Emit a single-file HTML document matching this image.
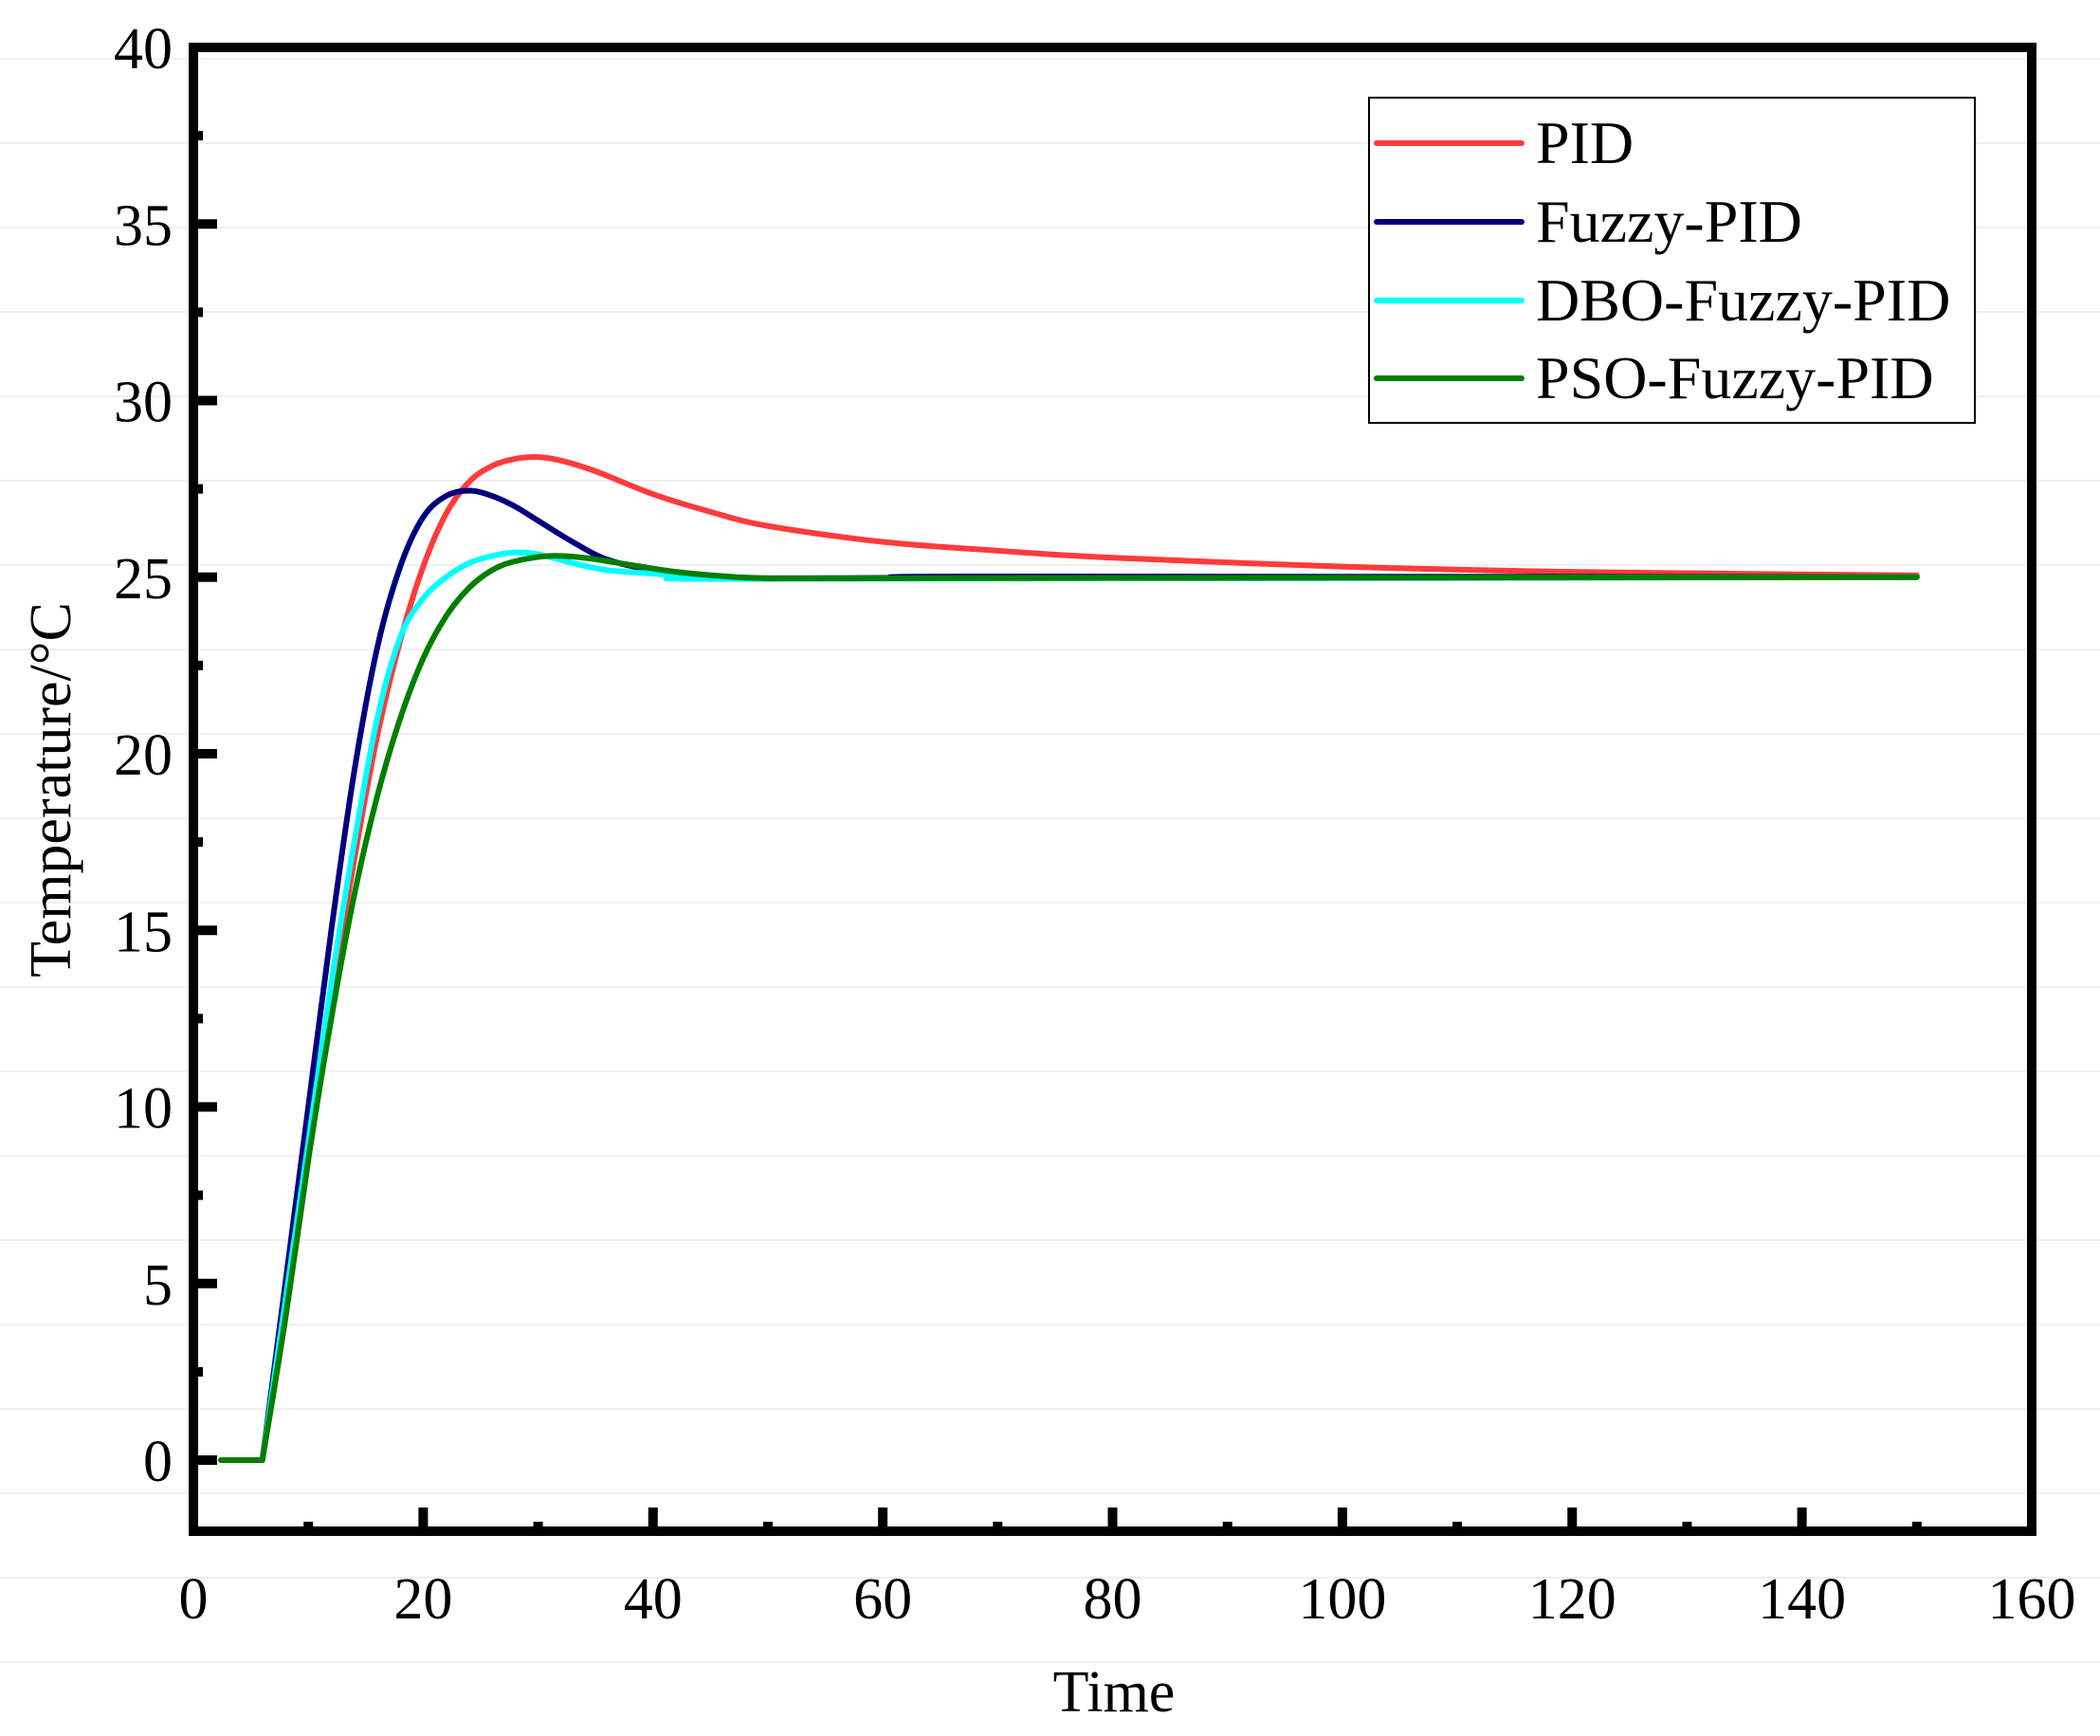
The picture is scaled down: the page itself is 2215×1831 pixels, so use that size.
<!DOCTYPE html>
<html><head><meta charset="utf-8"><style>
html,body{margin:0;padding:0;background:#fff}
svg text{font-family:"Liberation Serif",serif;fill:#000}
</style></head><body>
<svg id="s" xmlns="http://www.w3.org/2000/svg" width="2215" height="1826" viewBox="0 0 2215 1826">
<rect width="2215" height="1826" fill="#fff"/>
<g id="grid" stroke="#f0f0f0" stroke-width="2"></g>
<g id="curves" fill="none" stroke-width="6" stroke-linejoin="round" stroke-linecap="round"></g>
<g id="ticks" fill="#000"></g>
<rect x="204" y="50" width="1939" height="1565" fill="none" stroke="#000" stroke-width="10"/>
<g id="labels" font-size="62"></g>
<text x="1175" y="1805" font-size="62" text-anchor="middle">Time</text>
<text transform="translate(74,833) rotate(-90)" font-size="62" text-anchor="middle">Temperature/°C</text>
<rect x="1444" y="103" width="639" height="343" fill="#fff" stroke="#000" stroke-width="2"/>
<g stroke-width="6" stroke-linecap="round">
<line x1="1452" y1="151" x2="1605" y2="151" stroke="#ff3b3b"/>
<line x1="1452" y1="234" x2="1605" y2="234" stroke="#00007f"/>
<line x1="1452" y1="317" x2="1605" y2="317" stroke="#00ffff"/>
<line x1="1452" y1="399" x2="1605" y2="399" stroke="#007f00"/>
</g>
<g font-size="64">
<text x="1620" y="172">PID</text>
<text x="1620" y="255">Fuzzy-PID</text>
<text x="1620" y="338">DBO-Fuzzy-PID</text>
<text x="1620" y="420">PSO-Fuzzy-PID</text>
</g>
</svg>
<script>
var NS="http://www.w3.org/2000/svg";
function X(t){return 204+t*(2143-204)/160;}
function Y(v){return 1540-v*(1540-50)/40;}
function el(p,n,a){var e=document.createElementNS(NS,n);for(var k in a)e.setAttribute(k,a[k]);p.appendChild(e);return e;}
var g=document.getElementById('grid');
for(var y=62;y<1826;y+=89)el(g,'line',{x1:0,x2:2215,y1:y,y2:y});
var tk=document.getElementById('ticks'),lb=document.getElementById('labels');
for(var t=10;t<=150;t+=10){var maj=t%20==0;var h=maj?25:10;el(tk,'rect',{x:X(t)-5,y:1615-h,width:10,height:h});}
for(var t=0;t<=160;t+=20){var e=el(lb,'text',{x:X(t),y:1707,'text-anchor':'middle'});e.textContent=t;}
for(var v=0;v<40;v+=2.5){var maj=v%5==0;var h=maj?25:10;el(tk,'rect',{x:204,y:Y(v)-5,width:h,height:10});}
for(var v=0;v<=40;v+=5){var e=el(lb,'text',{x:182,y:Y(v)+22,'text-anchor':'end'});e.textContent=v;}
var S={
"#ff3b3b":[[2.4,0],[6,0],[8,4],[10,8.5],[12,13],[14,17],[16,20.5],[18,23.2],[20,25.3],[22,26.8],[24,27.7],[26,28.15],[28,28.35],[30,28.4],[32,28.3],[35,28],[40,27.35],[45,26.85],[50,26.45],[60,26],[70,25.75],[80,25.55],[100,25.3],[120,25.15],[150,25.05]],
"#00007f":[[2.4,0],[6,0],[8,5],[10,10],[12,15],[14,19.5],[16,23],[18,25.3],[20,26.7],[22,27.3],[24,27.45],[26,27.3],[28,27],[30,26.6],[33,26],[36,25.5],[40,25.2],[45,25.02],[50,24.97],[60,24.98],[70,25.02],[150,25]],
"#00ffff":[[2.4,0],[6,0],[8,4.5],[10,9],[12,13.5],[14,17.5],[16,21],[18,23.3],[20,24.4],[22,25],[24,25.4],[26,25.6],[28,25.7],[30,25.65],[33,25.4],[36,25.2],[40,25.1],[45,25],[50,24.95],[150,25]],
"#007f00":[[2.4,0],[6,0],[8,4],[10,8.5],[12,12.5],[14,16],[16,18.8],[18,21],[20,22.7],[22,23.9],[24,24.7],[26,25.2],[28,25.45],[31,25.6],[34,25.55],[38,25.35],[42,25.15],[46,25.03],[50,24.97],[60,24.97],[150,25]]};
var cg=document.getElementById('curves');
for(var c in S){var p=S[c].map(function(q){return [X(q[0]),Y(q[1])];});
var d="M"+p[0][0]+","+p[0][1]+" L"+p[1][0]+","+p[1][1];
for(var i=1;i<p.length-1;i++){var p0=p[i-1<1?1:i-1],p1=p[i],p2=p[i+1],p3=p[i+2]||p2;if(i==1)p0=p1;
var c1=[p1[0]+(p2[0]-p0[0])/6,p1[1]+(p2[1]-p0[1])/6],c2=[p2[0]-(p3[0]-p1[0])/6,p2[1]-(p3[1]-p1[1])/6];
d+=" C"+c1+" "+c2+" "+p2;}
el(cg,'path',{d:d,stroke:c});}
</script>
</body></html>
